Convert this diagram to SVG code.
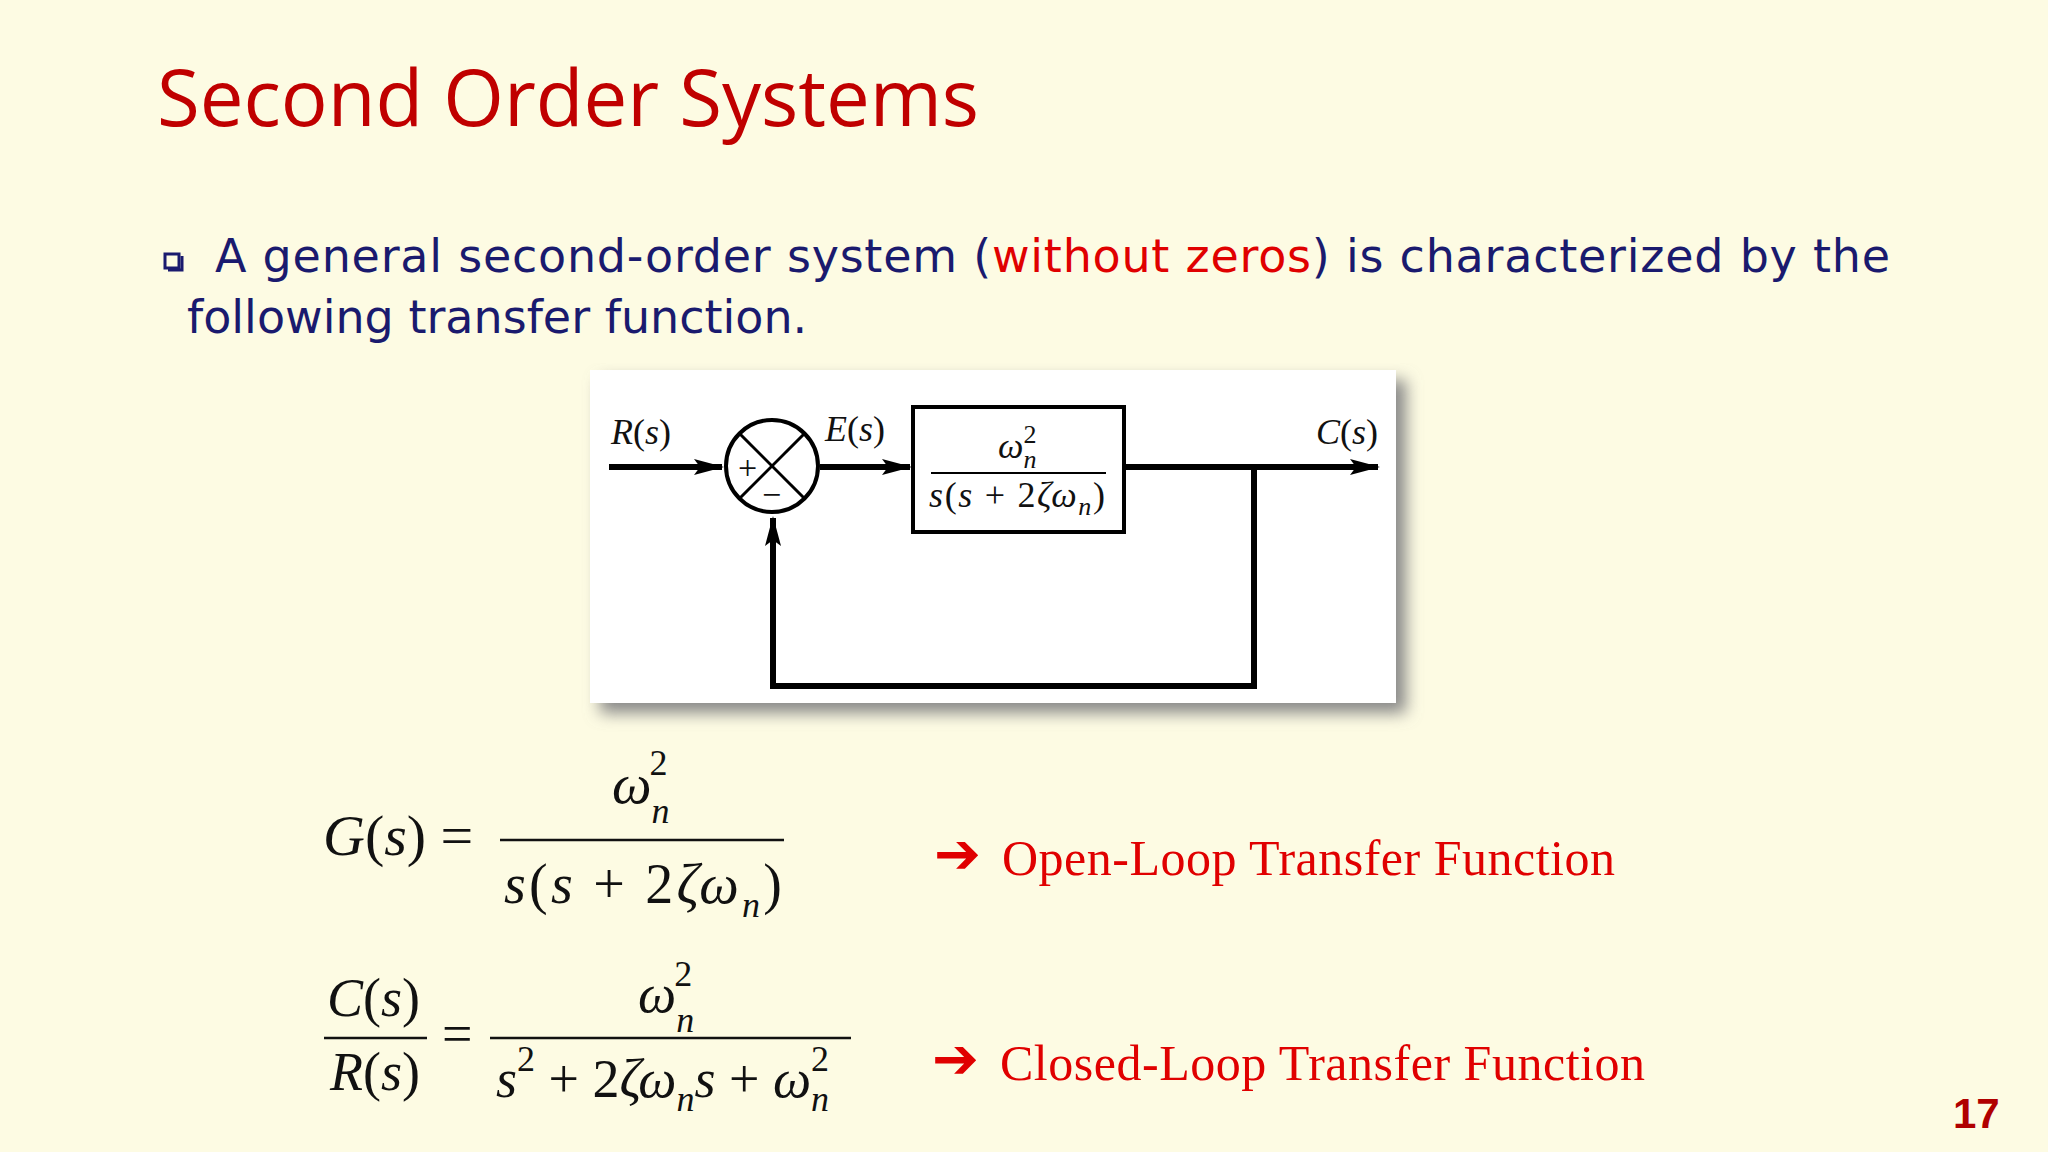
<svg xmlns="http://www.w3.org/2000/svg" width="2048" height="1152" viewBox="0 0 2048 1152">
<defs>
<style>
.t{font-family:"Liberation Serif",serif;font-style:italic;fill:#111}
.u{font-family:"Liberation Serif",serif;fill:#111}
.w{stroke:#000;stroke-width:6;fill:none}
.lbl{font-family:"Liberation Serif",serif;fill:#e00000;font-size:50px}
</style>
<marker id="a2" markerWidth="30" markerHeight="16" refX="28" refY="8" orient="auto" markerUnits="userSpaceOnUse"><path d="M0,0 L30,8 L0,16 L6,8 z" fill="#000"/></marker>
<filter id="sh" x="-5%" y="-5%" width="115%" height="125%"><feGaussianBlur stdDeviation="8"/></filter>
</defs>
<rect width="2048" height="1152" fill="#fdfbe3"/>
<text x="157" y="126" font-family="Open Sans, Liberation Sans, sans-serif" font-size="78" fill="#c00000" textLength="822">Second Order Systems</text>
<g font-family="DejaVu Sans, sans-serif" font-size="46" fill="#1a1a6e">
<rect x="165" y="254" width="14" height="14" fill="none" stroke="#1a1a6e" stroke-width="3"/>
<polyline points="168,270 182,270 182,256" fill="none" stroke="#1a1a6e" stroke-width="3"/>
<text x="215" y="272" textLength="1675">A general second-order system (<tspan fill="#e00000">without zeros</tspan>) is characterized by the</text>
<text x="187" y="333">following transfer function.</text>
</g>
<g id="diagram">
<rect x="600" y="380" width="806" height="333" fill="#888" filter="url(#sh)"/>
<rect x="590" y="370" width="806" height="333" fill="#fff"/>
<g id="connectors">
<line class="w" x1="609" y1="467" x2="722" y2="467" marker-end="url(#a2)"/>
<line class="w" x1="820" y1="467" x2="910" y2="467" marker-end="url(#a2)"/>
<line class="w" x1="1124" y1="467" x2="1378" y2="467" marker-end="url(#a2)"/>
<polyline class="w" points="1254,467 1254,686 773,686 773,518" marker-end="url(#a2)"/>
</g>
<g id="sum">
<circle cx="772" cy="466" r="46" fill="#fff" stroke="#000" stroke-width="4"/>
<line x1="739" y1="433" x2="805" y2="499" stroke="#000" stroke-width="3"/>
<line x1="805" y1="433" x2="739" y2="499" stroke="#000" stroke-width="3"/>
<text class="u" x="738" y="479" font-size="34">+</text>
<text class="u" x="762" y="506" font-size="34">−</text>
</g>
<g id="block">
<rect x="913" y="407" width="211" height="125" fill="#fff" stroke="#000" stroke-width="4"/>
<text class="t" x="998" y="458" font-size="36">ω<tspan font-size="26" dy="10">n</tspan><tspan font-size="26" dx="-13" dy="-25" font-style="normal">2</tspan></text>
<line x1="931" y1="473" x2="1106" y2="473" stroke="#000" stroke-width="2"/>
<text class="t" x="929" y="507" font-size="36" textLength="176">s<tspan font-style="normal">(</tspan>s <tspan font-style="normal">+ 2</tspan>ζω<tspan font-size="26" dy="8">n</tspan><tspan font-style="normal" dy="-8">)</tspan></text>
</g>
<text class="t" x="611" y="444" font-size="36">R<tspan font-style="normal">(</tspan>s<tspan font-style="normal">)</tspan></text>
<text class="t" x="825" y="441" font-size="36">E<tspan font-style="normal">(</tspan>s<tspan font-style="normal">)</tspan></text>
<text class="t" x="1316" y="444" font-size="36">C<tspan font-style="normal">(</tspan>s<tspan font-style="normal">)</tspan></text>
</g>
<g id="eq1">
<text class="t" x="323" y="855" font-size="58">G<tspan font-style="normal">(</tspan>s<tspan font-style="normal">) =</tspan></text>
<text class="t" x="612" y="803" font-size="56">ω<tspan font-size="36" dy="20">n</tspan><tspan font-size="36" dx="-20" dy="-48" font-style="normal">2</tspan></text>
<line x1="500" y1="840" x2="784" y2="840" stroke="#111" stroke-width="2.5"/>
<text class="t" x="504" y="903" font-size="56" textLength="278">s<tspan font-style="normal">(</tspan>s <tspan font-style="normal">+ 2</tspan>ζω<tspan font-size="36" dy="14">n</tspan><tspan font-style="normal" dy="-14">)</tspan></text>
</g>
<g id="eq2">
<text class="t" x="327" y="1016" font-size="54">C<tspan font-style="normal">(</tspan>s<tspan font-style="normal">)</tspan></text>
<line x1="324" y1="1038" x2="427" y2="1038" stroke="#111" stroke-width="2.5"/>
<text class="t" x="330" y="1090" font-size="54">R<tspan font-style="normal">(</tspan>s<tspan font-style="normal">)</tspan></text>
<text class="u" x="442" y="1052" font-size="54">=</text>
<text class="t" x="638" y="1012" font-size="54">ω<tspan font-size="36" dy="20">n</tspan><tspan font-size="36" dx="-20" dy="-46" font-style="normal">2</tspan></text>
<line x1="490" y1="1038" x2="851" y2="1038" stroke="#111" stroke-width="2.5"/>
<text class="t" x="496" y="1097" font-size="54">s<tspan font-size="36" font-style="normal" dy="-26">2</tspan><tspan font-style="normal" dy="26"> + 2</tspan>ζω<tspan font-size="36" dy="14">n</tspan><tspan dy="-14">s </tspan><tspan font-style="normal">+ </tspan>ω<tspan font-size="36" dy="14">n</tspan><tspan font-size="36" dx="-18" dy="-40" font-style="normal">2</tspan></text>
</g>
<g id="label1">
<text x="934" y="873" font-family="DejaVu Sans, sans-serif" font-weight="bold" font-size="56" fill="#e00000">➔</text>
<text class="lbl" x="1002" y="875" textLength="613">Open-Loop Transfer Function</text>
</g>
<g id="label2">
<text x="932" y="1078" font-family="DejaVu Sans, sans-serif" font-weight="bold" font-size="56" fill="#e00000">➔</text>
<text class="lbl" x="1000" y="1080" textLength="645">Closed-Loop Transfer Function</text>
</g>
<text x="1953" y="1128" font-family="Liberation Sans, sans-serif" font-weight="bold" font-size="42" fill="#b00000">17</text>
</svg>
